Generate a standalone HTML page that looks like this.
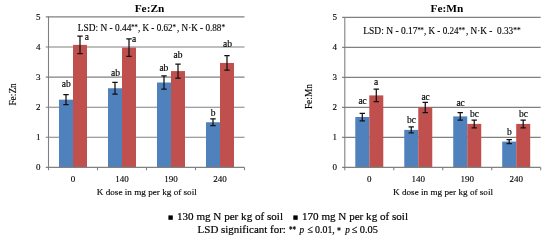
<!DOCTYPE html>
<html><head><meta charset="utf-8"><title>Fe:Zn and Fe:Mn</title>
<style>
html,body{margin:0;padding:0;background:#fff;}
svg{display:block}
text{font-family:"Liberation Serif","DejaVu Serif",serif;fill:#000}
.ax{font-size:9px;stroke:#000;stroke-width:0.12px}
.lab{font-size:9.5px;stroke:#000;stroke-width:0.15px}
.title{font-size:11.35px;font-weight:bold;fill:#000}
.lsd{font-size:9.6px;stroke:#000;stroke-width:0.12px}
.st{font-size:8.8px}
.st2{font-size:9.5px}
.leg{font-size:11.1px;stroke:#000;stroke-width:0.2px}
</style></head><body>
<svg width="550" height="242" viewBox="0 0 550 242">
<rect width="550" height="242" fill="#fff"/>
<line x1="45.8" y1="137.30" x2="244.5" y2="137.30" stroke="#808080" stroke-width="1.1"/>
<line x1="45.8" y1="107.20" x2="244.5" y2="107.20" stroke="#808080" stroke-width="1.1"/>
<line x1="45.8" y1="77.10" x2="244.5" y2="77.10" stroke="#808080" stroke-width="1.1"/>
<line x1="45.8" y1="47.00" x2="244.5" y2="47.00" stroke="#808080" stroke-width="1.1"/>
<line x1="45.8" y1="16.90" x2="244.5" y2="16.90" stroke="#808080" stroke-width="1.1"/>
<rect x="59.00" y="99.67" width="14" height="67.73" fill="#4F81BD"/>
<rect x="73.00" y="44.89" width="14" height="122.51" fill="#C0504D"/>
<path d="M66.00 94.71V104.64M63.30 94.71h5.4M63.30 104.64h5.4" stroke="#111" stroke-width="1.25" fill="none"/>
<path d="M80.00 36.16V53.62M77.30 36.16h5.4M77.30 53.62h5.4" stroke="#111" stroke-width="1.25" fill="none"/>
<rect x="108.00" y="88.24" width="14" height="79.16" fill="#4F81BD"/>
<rect x="122.00" y="47.60" width="14" height="119.80" fill="#C0504D"/>
<path d="M115.00 82.37V94.11M112.30 82.37h5.4M112.30 94.11h5.4" stroke="#111" stroke-width="1.25" fill="none"/>
<path d="M129.00 38.87V56.33M126.30 38.87h5.4M126.30 56.33h5.4" stroke="#111" stroke-width="1.25" fill="none"/>
<rect x="157.00" y="82.52" width="14" height="84.88" fill="#4F81BD"/>
<rect x="171.00" y="71.08" width="14" height="96.32" fill="#C0504D"/>
<path d="M164.00 75.90V89.14M161.30 75.90h5.4M161.30 89.14h5.4" stroke="#111" stroke-width="1.25" fill="none"/>
<path d="M178.00 64.16V78.00M175.30 64.16h5.4M175.30 78.00h5.4" stroke="#111" stroke-width="1.25" fill="none"/>
<rect x="206.00" y="122.25" width="14" height="45.15" fill="#4F81BD"/>
<rect x="220.00" y="62.95" width="14" height="104.45" fill="#C0504D"/>
<path d="M213.00 118.94V125.56M210.30 118.94h5.4M210.30 125.56h5.4" stroke="#111" stroke-width="1.25" fill="none"/>
<path d="M227.00 55.73V70.18M224.30 55.73h5.4M224.30 70.18h5.4" stroke="#111" stroke-width="1.25" fill="none"/>
<line x1="48.5" y1="16.40" x2="48.5" y2="170.20000000000002" stroke="#808080" stroke-width="1.1"/>
<line x1="45.8" y1="167.4" x2="244.5" y2="167.4" stroke="#808080" stroke-width="1.1"/>
<line x1="97.50" y1="167.4" x2="97.50" y2="170.20000000000002" stroke="#808080" stroke-width="1.1"/>
<line x1="146.50" y1="167.4" x2="146.50" y2="170.20000000000002" stroke="#808080" stroke-width="1.1"/>
<line x1="195.50" y1="167.4" x2="195.50" y2="170.20000000000002" stroke="#808080" stroke-width="1.1"/>
<line x1="244.50" y1="167.4" x2="244.50" y2="170.20000000000002" stroke="#808080" stroke-width="1.1"/>
<text x="40.6" y="170.40" text-anchor="end" class="ax">0</text>
<text x="40.6" y="140.30" text-anchor="end" class="ax">1</text>
<text x="40.6" y="110.20" text-anchor="end" class="ax">2</text>
<text x="40.6" y="80.10" text-anchor="end" class="ax">3</text>
<text x="40.6" y="50.00" text-anchor="end" class="ax">4</text>
<text x="40.6" y="19.90" text-anchor="end" class="ax">5</text>
<text x="73.00" y="181.6" text-anchor="middle" class="ax">0</text>
<text x="122.00" y="181.6" text-anchor="middle" class="ax">140</text>
<text x="171.00" y="181.6" text-anchor="middle" class="ax">190</text>
<text x="220.00" y="181.6" text-anchor="middle" class="ax">240</text>
<text x="146.80" y="194.9" text-anchor="middle" class="ax" textLength="100" lengthAdjust="spacingAndGlyphs">K dose in mg per kg of soil</text>
<text transform="translate(15.5,94.4) rotate(-90)" text-anchor="middle" class="ax" style="font-size:9.4px">Fe:Zn</text>
<text x="134.7" y="11.8" class="title">Fe:Zn</text>
<text y="30.5" class="lsd" xml:space="preserve"><tspan x="77.8" dy="0.00" textLength="53.60" lengthAdjust="spacingAndGlyphs">LSD: N - 0.44</tspan><tspan x="131.2" dy="-0.90" textLength="6.40" lengthAdjust="spacingAndGlyphs" class="st">**</tspan><tspan x="138" dy="0.90" textLength="34.50" lengthAdjust="spacingAndGlyphs">, K - 0.62</tspan><tspan x="172.4" dy="-0.90" textLength="3.40" lengthAdjust="spacingAndGlyphs" class="st">*</tspan><tspan x="177" dy="0.90" textLength="44.40" lengthAdjust="spacingAndGlyphs">, N·K - 0.88</tspan><tspan x="221.4" dy="-0.90" textLength="3.60" lengthAdjust="spacingAndGlyphs" class="st">*</tspan></text>
<text x="61.8" y="86.90" class="lab">ab</text>
<text x="84.7" y="39.50" class="lab">a</text>
<text x="111" y="75.80" class="lab">ab</text>
<text x="132" y="42.10" class="lab">a</text>
<text x="159.4" y="70.90" class="lab">ab</text>
<text x="173.6" y="57.50" class="lab">ab</text>
<text x="210.8" y="115.80" class="lab">b</text>
<text x="223" y="47.10" class="lab">ab</text>
<line x1="342.1" y1="137.40" x2="540.7" y2="137.40" stroke="#808080" stroke-width="1.1"/>
<line x1="342.1" y1="107.40" x2="540.7" y2="107.40" stroke="#808080" stroke-width="1.1"/>
<line x1="342.1" y1="77.40" x2="540.7" y2="77.40" stroke="#808080" stroke-width="1.1"/>
<line x1="342.1" y1="47.40" x2="540.7" y2="47.40" stroke="#808080" stroke-width="1.1"/>
<line x1="342.1" y1="17.40" x2="540.7" y2="17.40" stroke="#808080" stroke-width="1.1"/>
<rect x="355.29" y="117.00" width="14" height="50.40" fill="#4F81BD"/>
<rect x="369.29" y="95.40" width="14" height="72.00" fill="#C0504D"/>
<path d="M362.29 113.25V120.75M359.59 113.25h5.4M359.59 120.75h5.4" stroke="#111" stroke-width="1.25" fill="none"/>
<path d="M376.29 89.10V101.70M373.59 89.10h5.4M373.59 101.70h5.4" stroke="#111" stroke-width="1.25" fill="none"/>
<rect x="404.26" y="129.90" width="14" height="37.50" fill="#4F81BD"/>
<rect x="418.26" y="107.40" width="14" height="60.00" fill="#C0504D"/>
<path d="M411.26 126.90V132.90M408.56 126.90h5.4M408.56 132.90h5.4" stroke="#111" stroke-width="1.25" fill="none"/>
<path d="M425.26 102.30V112.50M422.56 102.30h5.4M422.56 112.50h5.4" stroke="#111" stroke-width="1.25" fill="none"/>
<rect x="453.24" y="116.40" width="14" height="51.00" fill="#4F81BD"/>
<rect x="467.24" y="123.90" width="14" height="43.50" fill="#C0504D"/>
<path d="M460.24 112.65V120.15M457.54 112.65h5.4M457.54 120.15h5.4" stroke="#111" stroke-width="1.25" fill="none"/>
<path d="M474.24 120.00V127.80M471.54 120.00h5.4M471.54 127.80h5.4" stroke="#111" stroke-width="1.25" fill="none"/>
<rect x="502.21" y="141.60" width="14" height="25.80" fill="#4F81BD"/>
<rect x="516.21" y="123.90" width="14" height="43.50" fill="#C0504D"/>
<path d="M509.21 139.50V143.70M506.51 139.50h5.4M506.51 143.70h5.4" stroke="#111" stroke-width="1.25" fill="none"/>
<path d="M523.21 120.00V127.80M520.51 120.00h5.4M520.51 127.80h5.4" stroke="#111" stroke-width="1.25" fill="none"/>
<line x1="344.8" y1="16.90" x2="344.8" y2="170.20000000000002" stroke="#808080" stroke-width="1.1"/>
<line x1="342.1" y1="167.4" x2="540.7" y2="167.4" stroke="#808080" stroke-width="1.1"/>
<line x1="393.78" y1="167.4" x2="393.78" y2="170.20000000000002" stroke="#808080" stroke-width="1.1"/>
<line x1="442.75" y1="167.4" x2="442.75" y2="170.20000000000002" stroke="#808080" stroke-width="1.1"/>
<line x1="491.73" y1="167.4" x2="491.73" y2="170.20000000000002" stroke="#808080" stroke-width="1.1"/>
<line x1="540.70" y1="167.4" x2="540.70" y2="170.20000000000002" stroke="#808080" stroke-width="1.1"/>
<text x="336.90000000000003" y="170.40" text-anchor="end" class="ax">0</text>
<text x="336.90000000000003" y="140.40" text-anchor="end" class="ax">1</text>
<text x="336.90000000000003" y="110.40" text-anchor="end" class="ax">2</text>
<text x="336.90000000000003" y="80.40" text-anchor="end" class="ax">3</text>
<text x="336.90000000000003" y="50.40" text-anchor="end" class="ax">4</text>
<text x="336.90000000000003" y="20.40" text-anchor="end" class="ax">5</text>
<text x="369.29" y="181.6" text-anchor="middle" class="ax">0</text>
<text x="418.26" y="181.6" text-anchor="middle" class="ax">140</text>
<text x="467.24" y="181.6" text-anchor="middle" class="ax">190</text>
<text x="516.21" y="181.6" text-anchor="middle" class="ax">240</text>
<text x="443.05" y="194.9" text-anchor="middle" class="ax" textLength="100" lengthAdjust="spacingAndGlyphs">K dose in mg per kg of soil</text>
<text transform="translate(311.8,96.6) rotate(-90)" text-anchor="middle" class="ax" style="font-size:9.4px">Fe:Mn</text>
<text x="430.5" y="11.8" class="title">Fe:Mn</text>
<text y="34.3" class="lsd" xml:space="preserve"><tspan x="363.3" dy="0.00" textLength="54.20" lengthAdjust="spacingAndGlyphs">LSD: N - 0.17</tspan><tspan x="417.4" dy="-0.90" textLength="6.30" lengthAdjust="spacingAndGlyphs" class="st">**</tspan><tspan x="424" dy="0.90" textLength="34.50" lengthAdjust="spacingAndGlyphs">, K - 0.24</tspan><tspan x="458.5" dy="-0.90" textLength="6.50" lengthAdjust="spacingAndGlyphs" class="st">**</tspan><tspan x="466" dy="0.90" textLength="47.20" lengthAdjust="spacingAndGlyphs">, N·K -  0.33</tspan><tspan x="513.3" dy="-0.90" textLength="7.30" lengthAdjust="spacingAndGlyphs" class="st">**</tspan></text>
<text x="358.4" y="103.90" class="lab">ac</text>
<text x="374" y="85.30" class="lab">a</text>
<text x="407" y="122.90" class="lab">bc</text>
<text x="421.4" y="100.30" class="lab">ac</text>
<text x="456.4" y="106.30" class="lab">ac</text>
<text x="470" y="117.30" class="lab">bc</text>
<text x="507" y="135.30" class="lab">b</text>
<text x="519" y="117.30" class="lab">bc</text>
<rect x="168.4" y="215.4" width="4.4" height="4.4" fill="#000"/>
<text x="177" y="220" class="leg" textLength="106" lengthAdjust="spacingAndGlyphs">130 mg N per kg of soil</text>
<rect x="293.3" y="215.4" width="4.4" height="4.4" fill="#000"/>
<text x="302" y="220" class="leg" textLength="106" lengthAdjust="spacingAndGlyphs">170 mg N per kg of soil</text>
<text y="233.4" class="leg"><tspan x="197.6" textLength="88.3" lengthAdjust="spacingAndGlyphs">LSD significant for:</tspan> <tspan x="288.9" dy="-0.6" textLength="7.1" lengthAdjust="spacingAndGlyphs" class="st2">**</tspan> <tspan x="299.5" dy="0.6" font-style="italic" textLength="4.6" lengthAdjust="spacingAndGlyphs">p</tspan> <tspan x="307.2" textLength="27.6" lengthAdjust="spacingAndGlyphs">≤ 0.01,</tspan> <tspan x="337.1" dy="0.4" textLength="3.9" lengthAdjust="spacingAndGlyphs" class="st2">*</tspan> <tspan x="345.2" dy="-0.4" font-style="italic" textLength="4.6" lengthAdjust="spacingAndGlyphs">p</tspan> <tspan x="351.5" textLength="26.4" lengthAdjust="spacingAndGlyphs">≤ 0.05</tspan></text>
</svg>
</body></html>
